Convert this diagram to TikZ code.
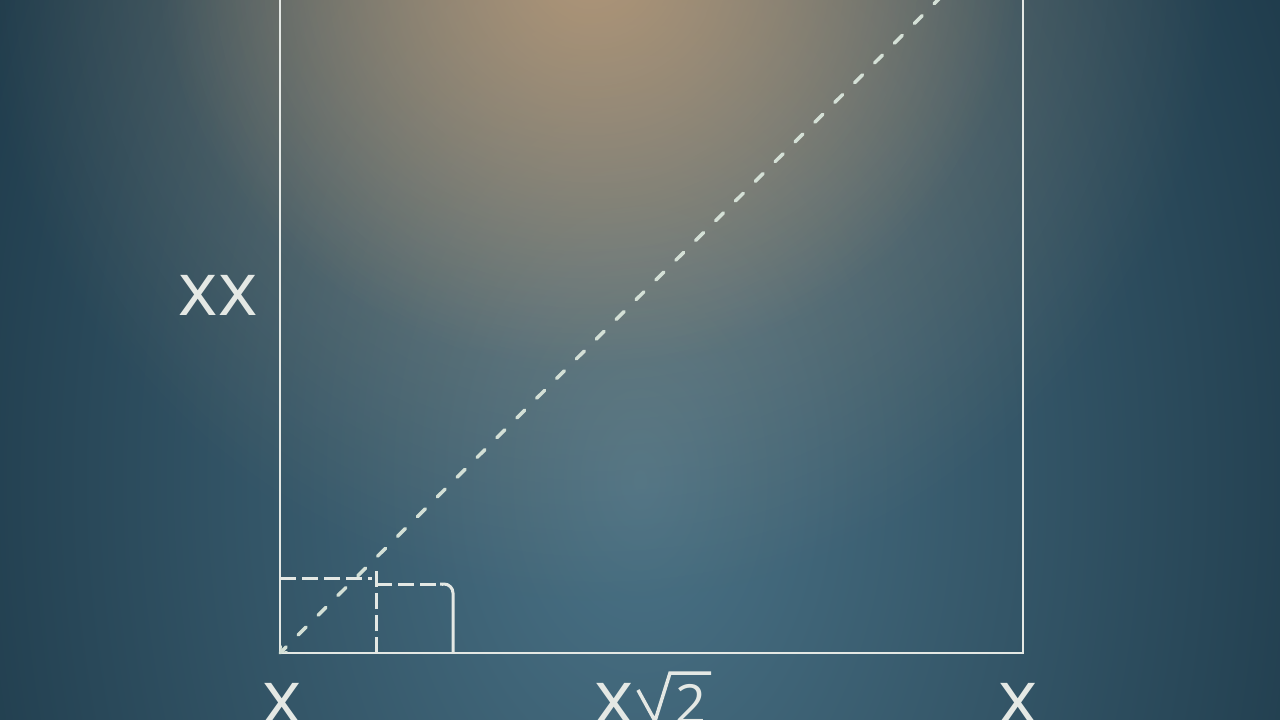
\documentclass[tikz,border=0pt]{standalone}
\usepackage{fontspec}
\setmainfont{Open Sans}
\usetikzlibrary{positioning,fadings,arrows.meta,calc}
\definecolor{bgdark}{RGB}{8,30,44}
\definecolor{bgmid}{RGB}{74,114,134}
\definecolor{glow}{RGB}{196,160,122}
\definecolor{chalk}{RGB}{228,232,228}
\definecolor{chalkdash}{RGB}{212,224,214}
\tikzfading[name=glowfade, inner color=transparent!0, outer color=transparent!100]

\begin{document}
\begin{tikzpicture}[x=1pt, y=-1pt,
    side/.style={draw=chalk, line width=2pt},
    guide/.style={draw=chalk, line width=3pt, dash pattern=on 16pt off 6pt},
    diag/.style={draw=chalkdash, line width=3.5pt, line cap=round, dash pattern=on 11pt off 17pt},
    lbl/.style={text=chalk, font=\fontsize{75}{80}\selectfont, inner sep=0pt}
]
    \useasboundingbox (0,0) rectangle (1280,720);

    % Background
    \begin{scope}
        \clip (0,0) rectangle (1280,720);
        \fill[bgdark] (0,0) rectangle (1280,720);
        \shade[inner color=bgmid, outer color=bgdark] (640,480) ellipse [x radius=1120, y radius=1700];
        \fill[glow, opacity=0.5, path fading=glowfade] (600,-40) ellipse [x radius=620, y radius=640];
        \fill[glow, opacity=0.7, path fading=glowfade] (590,-30) ellipse [x radius=430, y radius=400];
    \end{scope}

    % Square corners
    \coordinate (bl) at (280,653);
    \coordinate (br) at (1023,653);
    \coordinate (tl) at (280,-5);
    \coordinate (tr) at (1023,-5);
    \coordinate (dtop) at (942,-4);

    % Square
    \draw[side] (tl) -- (bl) -- (br) -- (tr);

    % Diagonal
    \draw[diag] (dtop) -- (bl);
    \draw[chalkdash, line width=1.5pt, -{Straight Barb[length=5pt, width=9pt]}] ($(bl)+(6,-6)$) -- (bl);

    % Small boxes
    \coordinate (sa) at (280,578);
    \coordinate (sb) at (372,578);
    \coordinate (sc) at (376,653);
    \coordinate (sd) at (376,570);
    \coordinate (se) at (443,584);
    \coordinate (sf) at (453,653);
    \draw[guide] (sa) -- (sb);
    \draw[guide] (sc) -- (sd);
    \draw[guide] (376,584) -- (se);
    \draw[side, line width=3pt, rounded corners=9pt] (440,584) -- (453,584) -- (sf);

    % Labels
    \node[lbl] (sidelabel) at (218,295) {xx};
    \node[lbl, anchor=base] (leftx) at (282,723) {x};
    \node[lbl, anchor=base] (rightx) at (1018,723) {x};
    \node[lbl, anchor=base] (midx) at (614,723) {x};
    \node[lbl, anchor=base, font=\fontsize{54}{60}\selectfont] (midtwo) at (691,723) {2};
    \coordinate (rtick) at (638,690);
    \coordinate (rfoot) at (655,721);
    \coordinate (rtop) at (670,673);
    \coordinate (rbar) at (711,673);
    \draw[chalk, line width=3.5pt] (rtick) -- (rfoot) -- (rtop) -- (rbar);
\end{tikzpicture}
\end{document}
